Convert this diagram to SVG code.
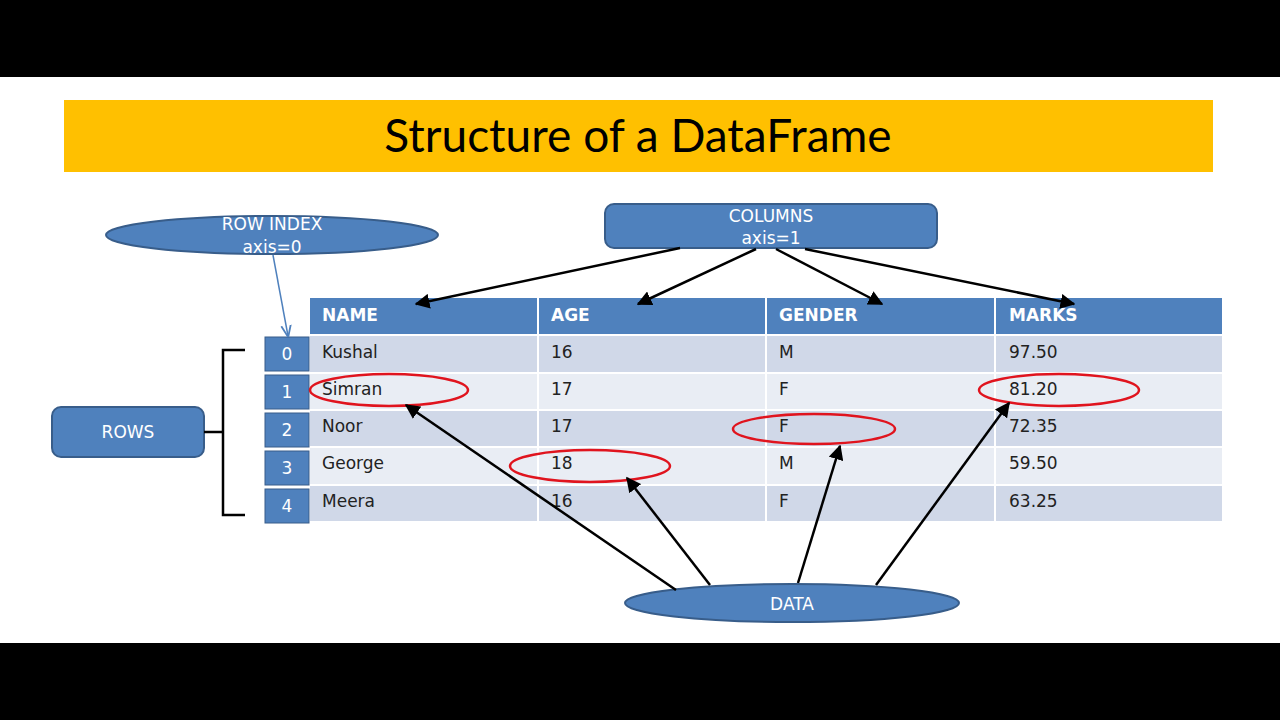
<svg xmlns="http://www.w3.org/2000/svg" width="1280" height="720" viewBox="0 0 1280 720">
<style>
.b{fill:#4F81BD;stroke:#385D8A;stroke-width:2}
.w{fill:#fff;font-family:"DejaVu Sans",sans-serif;font-size:17px;text-anchor:middle}
.h{fill:#fff;font-family:"DejaVu Sans",sans-serif;font-size:17px;font-weight:bold}
.t{fill:#222;font-family:"DejaVu Sans",sans-serif;font-size:17px}
.d{fill:#D0D8E8}.l{fill:#E9EDF4}
.red{fill:none;stroke:#E0141E;stroke-width:2.5}
.c{stroke:#000;stroke-width:2.5;fill:none;marker-end:url(#a)}
</style>
<defs><marker id="a" viewBox="0 0 10 10" refX="9" refY="5" markerWidth="6" markerHeight="6" orient="auto"><path d="M0,0L10,5L0,10z" fill="#000"/></marker>
<marker id="a2" viewBox="0 0 10 10" refX="9" refY="5" markerWidth="8" markerHeight="8" orient="auto"><path d="M0,1L10,5L0,9" fill="none" stroke="#4F81BD" stroke-width="1.5"/></marker></defs>
<rect width="1280" height="720" fill="#fff"/>
<rect width="1280" height="77" fill="#000"/>
<rect y="643" width="1280" height="77" fill="#000"/>
<rect x="64" y="100" width="1149" height="72" fill="#FFC000"/>
<text x="638" y="152" font-family="Lato,'Open Sans',sans-serif" font-size="46" text-anchor="middle" fill="#000">Structure of a DataFrame</text>
<g id="table">
<rect x="310" y="298" width="912" height="36" fill="#4F81BD"/>
<g fill="#fff"><rect x="537" y="298" width="2" height="224"/><rect x="765" y="298" width="2" height="224"/><rect x="994" y="298" width="2" height="224"/></g>
<text class="h" x="322" y="321">NAME</text><text class="h" x="551" y="321">AGE</text><text class="h" x="779" y="321">GENDER</text><text class="h" x="1009" y="321">MARKS</text>
<g>
<rect class="d" x="310" y="336" width="227" height="36"/><rect class="d" x="539" y="336" width="226" height="36"/><rect class="d" x="767" y="336" width="227" height="36"/><rect class="d" x="996" y="336" width="226" height="36"/>
<rect class="l" x="310" y="374" width="227" height="35"/><rect class="l" x="539" y="374" width="226" height="35"/><rect class="l" x="767" y="374" width="227" height="35"/><rect class="l" x="996" y="374" width="226" height="35"/>
<rect class="d" x="310" y="411" width="227" height="35"/><rect class="d" x="539" y="411" width="226" height="35"/><rect class="d" x="767" y="411" width="227" height="35"/><rect class="d" x="996" y="411" width="226" height="35"/>
<rect class="l" x="310" y="448" width="227" height="36"/><rect class="l" x="539" y="448" width="226" height="36"/><rect class="l" x="767" y="448" width="227" height="36"/><rect class="l" x="996" y="448" width="226" height="36"/>
<rect class="d" x="310" y="486" width="227" height="35"/><rect class="d" x="539" y="486" width="226" height="35"/><rect class="d" x="767" y="486" width="227" height="35"/><rect class="d" x="996" y="486" width="226" height="35"/>
</g>
<text class="t" x="322" y="358">Kushal</text><text class="t" x="551" y="358">16</text><text class="t" x="779" y="358">M</text><text class="t" x="1009" y="358">97.50</text>
<text class="t" x="322" y="395">Simran</text><text class="t" x="551" y="395">17</text><text class="t" x="779" y="395">F</text><text class="t" x="1009" y="395">81.20</text>
<text class="t" x="322" y="432">Noor</text><text class="t" x="551" y="432">17</text><text class="t" x="779" y="432">F</text><text class="t" x="1009" y="432">72.35</text>
<text class="t" x="322" y="469">George</text><text class="t" x="551" y="469">18</text><text class="t" x="779" y="469">M</text><text class="t" x="1009" y="469">59.50</text>
<text class="t" x="322" y="507">Meera</text><text class="t" x="551" y="507">16</text><text class="t" x="779" y="507">F</text><text class="t" x="1009" y="507">63.25</text>
</g>
<g id="index">
<rect x="265" y="337" width="44" height="34" fill="#4F81BD" stroke="#385D8A"/><text class="w" x="287" y="360">0</text>
<rect x="265" y="375" width="44" height="34" fill="#4F81BD" stroke="#385D8A"/><text class="w" x="287" y="398">1</text>
<rect x="265" y="413" width="44" height="34" fill="#4F81BD" stroke="#385D8A"/><text class="w" x="287" y="436">2</text>
<rect x="265" y="451" width="44" height="34" fill="#4F81BD" stroke="#385D8A"/><text class="w" x="287" y="474">3</text>
<rect x="265" y="489" width="44" height="34" fill="#4F81BD" stroke="#385D8A"/><text class="w" x="287" y="512">4</text>
</g>
<g id="highlights">
<ellipse class="red" cx="389" cy="390" rx="79" ry="16"/>
<ellipse class="red" cx="590" cy="466" rx="80" ry="16"/>
<ellipse class="red" cx="814" cy="429" rx="81" ry="15"/>
<ellipse class="red" cx="1059" cy="390" rx="80" ry="16"/>
</g>
<g id="rowindex"><ellipse class="b" cx="272" cy="235" rx="166" ry="19"/><text class="w" x="272" y="230">ROW INDEX</text><text class="w" x="272" y="253">axis=0</text></g>
<g id="columns"><rect class="b" x="605" y="204" width="332" height="44" rx="9"/><text class="w" x="771" y="222">COLUMNS</text><text class="w" x="771" y="244">axis=1</text></g>
<g id="rows"><rect class="b" x="52" y="407" width="152" height="50" rx="9"/><text class="w" x="128" y="438">ROWS</text></g>
<g id="data"><ellipse class="b" cx="792" cy="603" rx="167" ry="19"/><text class="w" x="792" y="610">DATA</text></g>
<g id="connectors">
<path d="M273,255L288,336" stroke="#4F81BD" stroke-width="1.5" fill="none" marker-end="url(#a2)"/>
<path d="M245,350H223V515H245M204,432H223" stroke="#000" stroke-width="2.5" fill="none"/>
<path class="c" d="M680,248L416,304"/>
<path class="c" d="M756,249L638,304"/>
<path class="c" d="M776,249L882,304"/>
<path class="c" d="M805,249L1074,304"/>
<path class="c" d="M676,590L406,405"/>
<path class="c" d="M710,585L627,478"/>
<path class="c" d="M798,583L840,446"/>
<path class="c" d="M876,585L1009,403"/>
</g>
</svg>
